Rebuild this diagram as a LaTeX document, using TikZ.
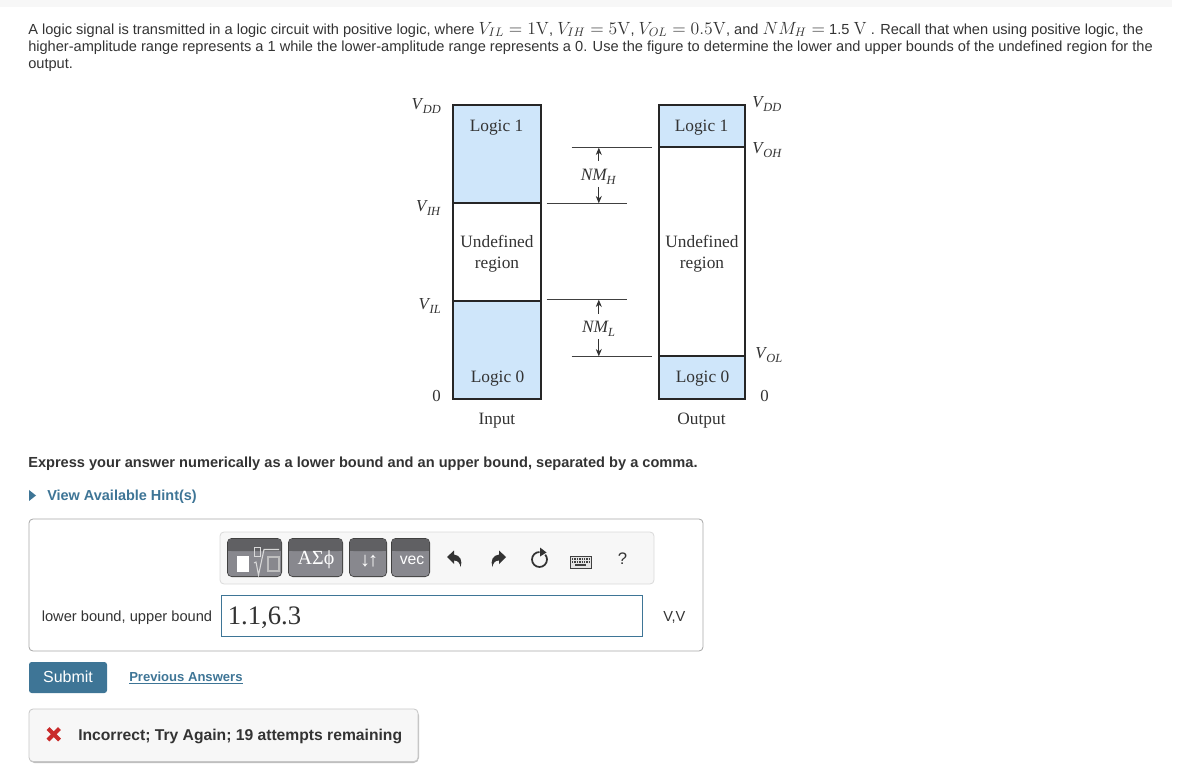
\documentclass[tikz,border=0pt]{standalone}
\usepackage[no-math]{fontspec}
\setmainfont{Liberation Sans}
\newfontfamily\figfont{Liberation Serif}
\usetikzlibrary{arrows.meta}
\pgfdeclarelayer{edgelayer}
\pgfdeclarelayer{nodelayer}
\pgfsetlayers{edgelayer,nodelayer,main}
\definecolor{inkgray}{HTML}{333333}
\definecolor{linkblue}{HTML}{3E7596}
\definecolor{logicblue}{HTML}{CFE6FA}
\definecolor{btnlight}{HTML}{88888E}
\definecolor{btndark}{HTML}{606063}
\definecolor{crossred}{HTML}{C92A2A}
\tikzstyle{para}=[anchor=west,inner sep=0pt,yshift=-1.3pt,text=inkgray,font=\fontsize{10.95}{12}\selectfont]
\tikzstyle{strong}=[anchor=west,inner sep=0pt,yshift=-1.3pt,text=inkgray,font=\bfseries\fontsize{10.95}{12}\selectfont]
\tikzstyle{link}=[anchor=west,inner sep=0pt,yshift=-1.3pt,text=linkblue,font=\bfseries\fontsize{10.85}{12}\selectfont]
\tikzstyle{fig}=[inner sep=0pt,yshift=-1.3pt,text=black!80,align=center,font=\figfont\fontsize{13}{15.75}\selectfont]
\tikzstyle{lvl}=[anchor=east,inner sep=0pt,yshift=-0.6pt,text=black!80,font=\figfont\fontsize{12.6}{15}\selectfont]
\tikzstyle{logic}=[fill=logicblue,draw=black!85,line width=1.3pt]
\tikzstyle{undef}=[fill=white,draw=black!85,line width=1.3pt]
\tikzstyle{margin}=[draw=black!75,line width=0.6pt]
\tikzstyle{dim}=[draw=black!80,line width=0.5pt,-{Stealth[length=5.5pt,width=4.5pt]}]
\tikzstyle{panel}=[draw=black!35,line width=0.6pt,rounded corners=3pt]
\tikzstyle{btnlabel}=[inner sep=0pt,text=white]
\tikzstyle{icon}=[inner sep=0pt,text=inkgray]
\newcommand{\lev}[2]{\textit{#1}\kern-0.6pt\raisebox{-0.5ex}{\fontsize{9.3}{10}\selectfont\textit{#2}}}
\newcommand{\mth}[1]{\scalebox{0.92}{\fontsize{14.4}{15}\selectfont$#1$}}
\newcommand{\btn}[2]{%
	\fill [black!75,rounded corners=3.5pt] (#1,538) rectangle (#2,577);
	\fill [btnlight,rounded corners=2.5pt] (#1+1,539) rectangle (#2-1,576);
	\fill [btndark,rounded corners=2.5pt] (#1+1,539) rectangle (#2-1,551);
	\fill [btndark] (#1+1,545) rectangle (#2-1,551);
}
\begin{document}
\begin{tikzpicture}[x=0.75pt,y=-0.75pt]
	\useasboundingbox (0,0) rectangle (1190,777);
	\begin{pgfonlayer}{edgelayer}
		\fill [black!3] (0,0) rectangle (1172,7);
		\filldraw [style=logic] (452.7,105) rectangle (540.7,203.3);
		\filldraw [style=undef] (452.7,203.3) rectangle (540.7,300.7);
		\filldraw [style=logic] (452.7,300.7) rectangle (540.7,398.7);
		\filldraw [style=logic] (659,105) rectangle (745.3,147.3);
		\filldraw [style=undef] (659,147.3) rectangle (745.3,355.7);
		\filldraw [style=logic] (659,355.7) rectangle (745.3,398.7);
		\draw [style=panel] (29,519) rectangle (703,651);
		\filldraw [style=panel,draw=black!15,fill=black!3] (220,532) rectangle (654,584);
		\filldraw [draw=linkblue,fill=white,line width=0.7pt] (221,595) rectangle (642.7,636);
		\fill [linkblue,rounded corners=2pt] (29,662) rectangle (107,693);
		\fill [black!25,rounded corners=4pt] (29,710) rectangle (419,763);
		\filldraw [style=panel,draw=black!22,fill=black!3] (29,709) rectangle (418,761.5);
		\btn{227}{282}
		\btn{288}{343}
		\btn{349}{387}
		\btn{391}{430}
	\end{pgfonlayer}
	\begin{pgfonlayer}{nodelayer}
		\node [style=para] (0) at (28,28) {A logic signal is transmitted in a logic circuit with positive logic, where \mth{V_{IL}=1\mathrm{V}}, \mth{V_{IH}=5\mathrm{V}}, \mth{V_{OL}=0.5\mathrm{V}}, and \mth{NM_{H}=} 1.5 \mth{\mathrm{V}} . Recall that when using positive logic, the};
		\node [style=para] (1) at (28,46) {higher-amplitude range represents a 1 while the lower-amplitude range represents a 0. Use the figure to determine the lower and upper bounds of the undefined region for the};
		\node [style=para] (2) at (28,64) {output.};
		\node [style=fig] (3) at (496.5,126) {Logic 1};
		\node [style=fig] (4) at (497,252) {Undefined\\region};
		\node [style=fig] (5) at (497.5,377) {Logic 0};
		\node [style=fig] (6) at (497,419) {Input};
		\node [style=fig] (7) at (701.5,126) {Logic 1};
		\node [style=fig] (8) at (702,252) {Undefined\\region};
		\node [style=fig] (9) at (702.5,377) {Logic 0};
		\node [style=fig] (10) at (701.5,419) {Output};
		\node [style=lvl] (11) at (441,105) {\lev{V}{DD}};
		\node [style=lvl] (12) at (441,207) {\lev{V}{IH}};
		\node [style=lvl] (13) at (441,305) {\lev{V}{IL}};
		\node [style=lvl] (14) at (441,395) {0};
		\node [style=lvl,anchor=west] (15) at (752,103) {\lev{V}{DD}};
		\node [style=lvl,anchor=west] (16) at (752,149) {\lev{V}{OH}};
		\node [style=lvl,anchor=west] (17) at (755,354) {\lev{V}{OL}};
		\node [style=lvl,anchor=west] (18) at (760,395) {0};
		\node [style=fig] (19) at (598.5,175) {\lev{NM}{H}};
		\node [style=fig] (20) at (598.5,327) {\lev{NM}{L}};
		\coordinate (21) at (571.7,147.7);
		\coordinate (22) at (652.3,147.7);
		\coordinate (23) at (546.7,203.3);
		\coordinate (24) at (627.3,203.3);
		\coordinate (25) at (546.7,299.7);
		\coordinate (26) at (627.3,299.7);
		\coordinate (27) at (571.7,356.3);
		\coordinate (28) at (652.3,356.3);
		\coordinate (29) at (598.8,147.7);
		\coordinate (30) at (598.8,161);
		\coordinate (31) at (598.8,187);
		\coordinate (32) at (598.8,203.3);
		\coordinate (33) at (598.8,299.7);
		\coordinate (34) at (598.8,314);
		\coordinate (35) at (598.8,339);
		\coordinate (36) at (598.8,356.3);
		\node [style=strong] (37) at (28,462) {Express your answer numerically as a lower bound and an upper bound, separated by a comma.};
		\node [style=link] (38) at (47,495.5) {View Available Hint(s)};
		\node [style=para,font=\fontsize{11}{12}\selectfont] (39) at (41.5,615.5) {lower bound, upper bound};
		\node [style=para] (40) at (663,615.5) {V,V};
		\node [anchor=west,inner sep=0pt,yshift=-1pt,text=black!80,font=\figfont\fontsize{20}{24}\selectfont] (41) at (227.5,616) {1.1,6.3};
		\node [style=btnlabel,font=\figfont\fontsize{15}{16}\selectfont] (42) at (316,560) {ΑΣϕ};
		\node [style=btnlabel,font=\figfont\fontsize{15}{16}\selectfont] (43) at (369,561) {↓\kern-1.5pt↑};
		\node [style=btnlabel,font=\fontsize{11.8}{13}\selectfont] (44) at (412,560.5) {vec};
		\node [style=icon,font=\fontsize{12.5}{14}\selectfont] (45) at (622.5,559) {?};
		\node [anchor=center,inner sep=0pt,yshift=-0.5pt,text=white,font=\fontsize{12}{14}\selectfont] (46) at (68,676) {Submit};
		\node [style=link,font=\bfseries\fontsize{9.8}{12}\selectfont] (47) at (129,676.5) {\underline{Previous Answers}};
		\node [style=strong,font=\bfseries\fontsize{11.75}{14}\selectfont] (48) at (78,735) {Incorrect; Try Again; 19 attempts remaining};
	\end{pgfonlayer}
	% margins
	\draw [style=margin] (21) -- (22);
	\draw [style=margin] (23) -- (24);
	\draw [style=margin] (25) -- (26);
	\draw [style=margin] (27) -- (28);
	\draw [style=dim] (30) -- (29);
	\draw [style=dim] (31) -- (32);
	\draw [style=dim] (34) -- (33);
	\draw [style=dim] (35) -- (36);
	% hint triangle
	\fill [linkblue] (29,490) -- (36,495.5) -- (29,501) -- cycle;
	% radical button
	\fill [white] (237,555.7) rectangle (248.5,572);
	\draw [black!15,line width=0.7pt] (254.5,547.5) rectangle (260.5,556.5);
	\draw [black!15,line width=0.8pt] (254,563) -- (256,562) -- (258.5,575) -- (264,549.5) -- (279,549.5);
	\draw [black!25,line width=0.9pt] (268,557) rectangle (279,571);
	% undo, redo
	\fill [black!80] (447,557) -- (454,550.5) -- (454,554.5) .. controls (460,555) and (463,561) .. (460.5,567) .. controls (460,563) and (458,560.5) .. (454,560.5) -- (454,564) -- cycle;
	\fill [black!80] (506,557) -- (499,550.5) -- (499,554.5) .. controls (493,555) and (490,561) .. (492.5,567) .. controls (493,563) and (495,560.5) .. (499,560.5) -- (499,564) -- cycle;
	% reload
	\draw [black!80,line width=1.3pt] (539.5,552) arc [start angle=-90,end angle=-400,radius=7.5];
	\fill [black!80] (540,547.5) -- (546.5,552.5) -- (540,556.5) -- cycle;
	% keyboard
	\draw [black!75,fill=black!10,line width=0.6pt] (570,556) rectangle (591,568);
	\draw [black!75,line width=1.2pt,dash pattern=on 1pt off 0.8pt] (572,559) -- (589,559);
	\draw [black!75,line width=1.2pt,dash pattern=on 1pt off 0.8pt] (572,562) -- (589,562);
	\draw [black!75,line width=1.2pt] (575,565) -- (586,565);
	% cross
	\draw [crossred,line width=3pt] (48,728.5) -- (59.5,740);
	\draw [crossred,line width=3pt] (59.5,728.5) -- (48,740);
\end{tikzpicture}
\end{document}
